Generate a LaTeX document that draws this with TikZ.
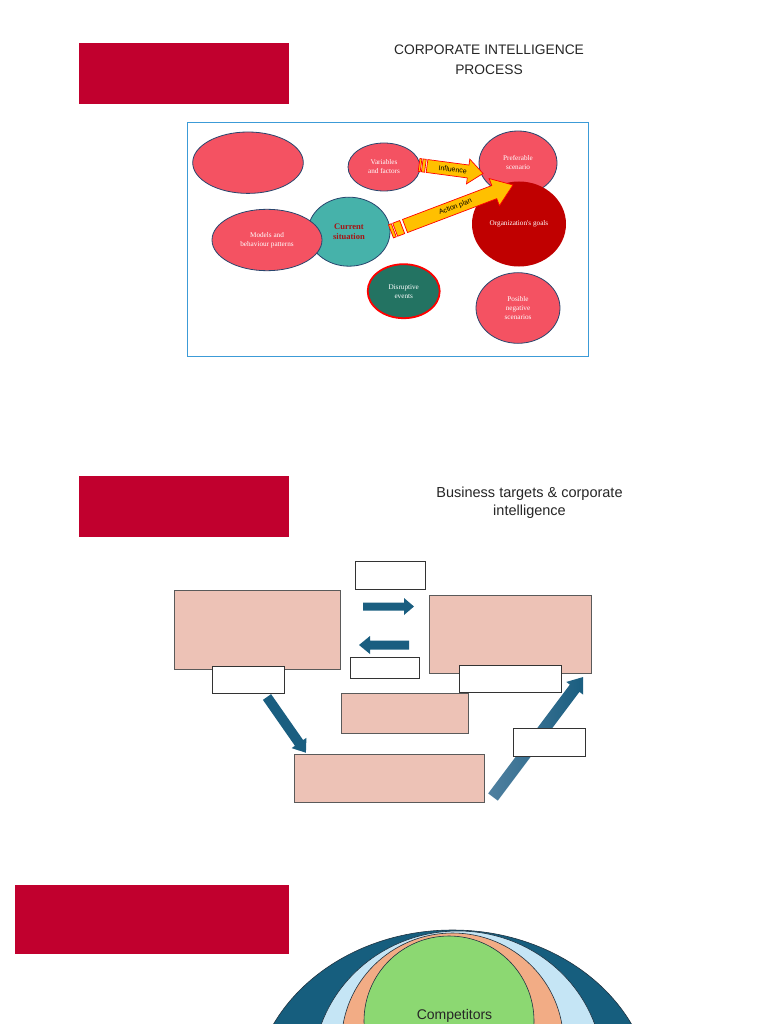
\documentclass[tikz,border=0pt]{standalone}
\usepackage{fontspec}
\setmainfont{Liberation Sans}
\newfontfamily\serifff{Liberation Serif}
\usetikzlibrary{shapes.geometric}
\definecolor{redbox}{RGB}{193,0,46}
\definecolor{frameblue}{RGB}{60,155,215}
\definecolor{ellpink}{RGB}{244,82,98}
\definecolor{ellline}{RGB}{40,70,110}
\definecolor{tealc}{RGB}{70,178,170}
\definecolor{darkredc}{RGB}{192,0,0}
\definecolor{darktealc}{RGB}{35,115,98}
\definecolor{curtext}{RGB}{165,20,20}
\definecolor{ayellow}{RGB}{255,192,0}
\definecolor{pinkboxc}{RGB}{237,194,182}
\definecolor{boxline}{RGB}{90,90,90}
\definecolor{arrowblue}{RGB}{26,94,128}
\definecolor{arrowlight}{RGB}{80,128,160}
\definecolor{cdark}{RGB}{22,94,126}
\definecolor{clight}{RGB}{197,229,245}
\definecolor{corange}{RGB}{242,172,133}
\definecolor{cgreen}{RGB}{140,216,114}
\definecolor{cline}{RGB}{30,50,65}
\begin{document}
\begin{tikzpicture}[x=1pt,y=-1pt,
  redrect/.style={rectangle, fill=redbox, inner sep=0pt, anchor=north west},
  ellbase/.style={ellipse, inner sep=0pt, align=center, text=white,
    font=\serifff\fontsize{7.2}{9}\selectfont},
  pinkell/.style={ellbase, draw=ellline, fill=ellpink, line width=0.8pt},
  pinkbox/.style={rectangle, draw=boxline, fill=pinkboxc, line width=0.6pt, inner sep=0pt},
  whitebox/.style={rectangle, draw=black!80, fill=white, line width=0.7pt, inner sep=0pt},
  yarrow/.style={draw=red, fill=ayellow, line width=0.7pt, line join=miter},
  barrow/.style={fill=arrowblue},
  arrowtext/.style={font=\fontsize{7}{8}\selectfont, text=black, inner sep=0pt},
  cring/.style={draw=cline, line width=0.6pt},
  titletext/.style={align=center, text=black!85}
]
\useasboundingbox[fill=white] (0,0) rectangle (768,1024);

% ---------- red header boxes ----------
\node[redrect, minimum width=210, minimum height=61] (head1) at (79,43) {};
\node[redrect, minimum width=210, minimum height=61] (head2) at (79,476) {};
\node[redrect, minimum width=274, minimum height=69] (head3) at (15,885) {};

% ---------- titles ----------
\node[titletext, font=\fontsize{13.8}{20}\selectfont] (title1) at (489,60)
  {CORPORATE INTELLIGENCE\\PROCESS};
\node[titletext, font=\fontsize{14.5}{18}\selectfont] (title2) at (529.5,503)
  {Business targets \& corporate\\intelligence};

% ---------- section 1 ----------
\node[draw=frameblue, line width=1.2pt, minimum width=401, minimum height=234,
  inner sep=0pt, anchor=north west] (frame) at (187,122) {};

\node[pinkell, minimum width=110.6, minimum height=61.4] (blank) at (248,162.7) {};
\node[pinkell, minimum width=72, minimum height=48] (vars) at (384,167) {Variables\\and factors};
\node[pinkell, minimum width=78, minimum height=64] (pref) at (518,163) {Preferable\\scenario};
\node[ellbase, fill=darkredc, minimum width=94, minimum height=85] (goals) at (519,224) {Organization's goals};
\node[ellbase, draw=ellline, fill=tealc, line width=0.8pt, minimum width=82, minimum height=69,
  text=curtext, font=\serifff\bfseries\fontsize{8.5}{10}\selectfont] (cur) at (349,231.7) {Current\\situation};
\node[pinkell, minimum width=110, minimum height=61.4] (models) at (267,240) {Models and\\behaviour patterns};
\node[ellbase, draw=red, fill=darktealc, line width=1.8pt, minimum width=72, minimum height=54] (disr) at (403.7,291.2) {Disruptive\\events};
\node[pinkell, minimum width=84, minimum height=70.6] (neg) at (518,308) {Posible\\negative\\scenarios};

% Influence arrow (vars -> pref)
\begin{scope}[shift={(427,166)}, rotate=-7.6]
  \path[yarrow] (0,-6.5) -- (41.5,-6.5) -- (41.5,-12.5) -- (56.5,0) -- (41.5,12.5) -- (41.5,6.5) -- (0,6.5) -- cycle;
  \path[yarrow] (-8,-6.5) rectangle (-6,6.5);
  \path[yarrow] (-4.8,-6.5) rectangle (-1.6,6.5);
  \node[arrowtext, transform shape] (inftext) at (26,0) {Influence};
\end{scope}

% Action plan arrow (cur -> goals)
\begin{scope}[shift={(405,226)}, rotate=20.8]
  \path[yarrow] (0,-7) -- (95.5,-7) -- (95.5,-14.5) -- (115.5,0) -- (95.5,14.5) -- (95.5,7) -- (0,7) -- cycle;
  \path[yarrow] (-15,-7) rectangle (-12,7);
  \path[yarrow] (-10.5,-7) rectangle (-3,7);
  \node[arrowtext, transform shape] (aptext) at (54,0) {Action plan};
\end{scope}

% ---------- section 2 ----------
\node[pinkbox, minimum width=166, minimum height=79] (lbox) at (257,629.5) {};
\node[pinkbox, minimum width=162, minimum height=78] (rbox) at (510,634) {};
\node[pinkbox, minimum width=127, minimum height=40] (mbox) at (404.5,713) {};
\node[pinkbox, minimum width=190, minimum height=48] (bbox) at (389,778) {};

% right arrow
\begin{scope}[shift={(363,606.5)}]
  \path[barrow] (0,-4) -- (41,-4) -- (41,-8.5) -- (51,0) -- (41,8.5) -- (41,4) -- (0,4) -- cycle;
\end{scope}
% left arrow
\begin{scope}[shift={(409,645)}, rotate=180]
  \path[barrow] (0,-4.5) -- (39,-4.5) -- (39,-9) -- (50,0) -- (39,9) -- (39,4.5) -- (0,4.5) -- cycle;
\end{scope}
% down arrow
\begin{scope}[shift={(267,697)}, rotate=-55.1]
  \path[barrow] (0,-5) -- (56,-5) -- (56,-9) -- (68,0) -- (56,9) -- (56,5) -- (0,5) -- cycle;
\end{scope}
% up arrow
\begin{scope}[shift={(493,797)}, rotate=53.1]
  \path[left color=arrowlight, right color=arrowblue] (0,-6) -- (136,-6) -- (136,-10.5) -- (150,0) -- (136,10.5) -- (136,6) -- (0,6) -- cycle;
\end{scope}

\node[whitebox, minimum width=70, minimum height=28] (wtop) at (390,575) {};
\node[whitebox, minimum width=69, minimum height=21] (wmid) at (384.5,667.5) {};
\node[whitebox, minimum width=72, minimum height=27] (wleft) at (248,679.5) {};
\node[whitebox, minimum width=102, minimum height=27] (wright) at (510,678.5) {};
\node[whitebox, minimum width=72, minimum height=28] (wside) at (549,742) {};

% ---------- section 3 ----------
\begin{scope}
  \clip (0,0) rectangle (768,1024);
  \draw[cring, fill=cdark] (452.5,1100) ellipse [x radius=200, y radius=170];
  \draw[cring, fill=clight] (458,1071) ellipse [x radius=145, y radius=140];
  \draw[cring, fill=corange] (452.5,1043) ellipse [x radius=111, y radius=110];
  \node[circle, cring, fill=cgreen, minimum size=170, inner sep=0pt] (comp) at (449,1021) {};
\end{scope}
\node[font=\fontsize{14}{16}\selectfont, text=black!85] (comptext) at (454.5,1016) {Competitors};
\end{tikzpicture}
\end{document}
